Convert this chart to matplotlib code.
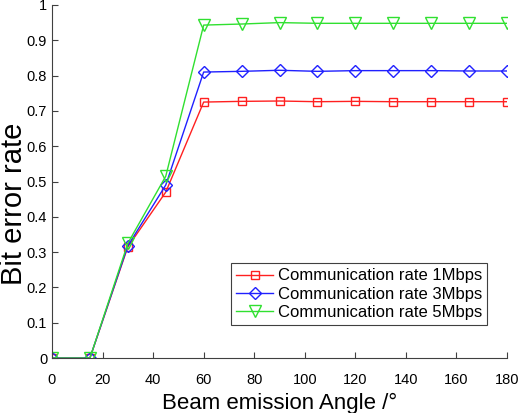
import matplotlib.pyplot as plt
from matplotlib.ticker import FuncFormatter

plt.rcParams["font.family"] = ["Liberation Sans", "DejaVu Sans"]

angles = [0, 15, 30, 45, 60, 75, 90, 105, 120, 135, 150, 165, 180]
ber_1mbps = [0, 0, 0.315, 0.470, 0.725, 0.727, 0.728, 0.726, 0.727, 0.726, 0.726, 0.726, 0.726]
ber_3mbps = [0, 0, 0.318, 0.490, 0.810, 0.812, 0.815, 0.812, 0.814, 0.814, 0.814, 0.813, 0.813]
ber_5mbps = [0, 0, 0.325, 0.515, 0.943, 0.946, 0.950, 0.948, 0.948, 0.948, 0.948, 0.948, 0.948]
labels = ["Communication rate 1Mbps", "Communication rate 3Mbps", "Communication rate 5Mbps"]

fig = plt.figure(figsize=(5.2, 4.13), dpi=100)
ax = fig.add_axes([0.1, 0.133, 0.875, 0.855])

ax.plot(angles, ber_1mbps, color="#ff2020", marker="s", markersize=6,
        markerfacecolor="none", linewidth=1, label=labels[0])
ax.plot(angles, ber_3mbps, color="#2020ff", marker="D", markersize=6,
        markerfacecolor="none", linewidth=1, label=labels[1])
ax.plot(angles, ber_5mbps, color="#30e030", marker="v", markersize=8,
        markerfacecolor="none", linewidth=1, label=labels[2])

ax.set_xlim(0, 180)
ax.set_ylim(0, 1)
ax.set_xticks(range(0, 181, 20))
ax.set_yticks([i / 10 for i in range(11)])
ax.yaxis.set_major_formatter(FuncFormatter(lambda v, p: f"{v:g}"))
ax.tick_params(direction="in", labelsize=10.5, length=4, color="#404040")
ax.tick_params(axis="x", pad=11)
ax.spines["top"].set_visible(False)
ax.spines["right"].set_visible(False)
for s in ("left", "bottom"):
    ax.spines[s].set_color("#404040")

ax.set_xlabel("Beam emission Angle /°", fontsize=16, labelpad=4)
ax.set_ylabel("Bit error rate", fontsize=21)
ax.yaxis.set_label_coords(-0.052, 0.436)

leg = ax.legend(loc="lower right", bbox_to_anchor=(0.975, 0.07), fontsize=12,
                fancybox=False, framealpha=1, edgecolor="#404040",
                handlelength=2.2, borderpad=0.3, labelspacing=0.2, handletextpad=0.3)
leg.get_frame().set_linewidth(0.8)

fig.savefig("out.png", dpi=100)
